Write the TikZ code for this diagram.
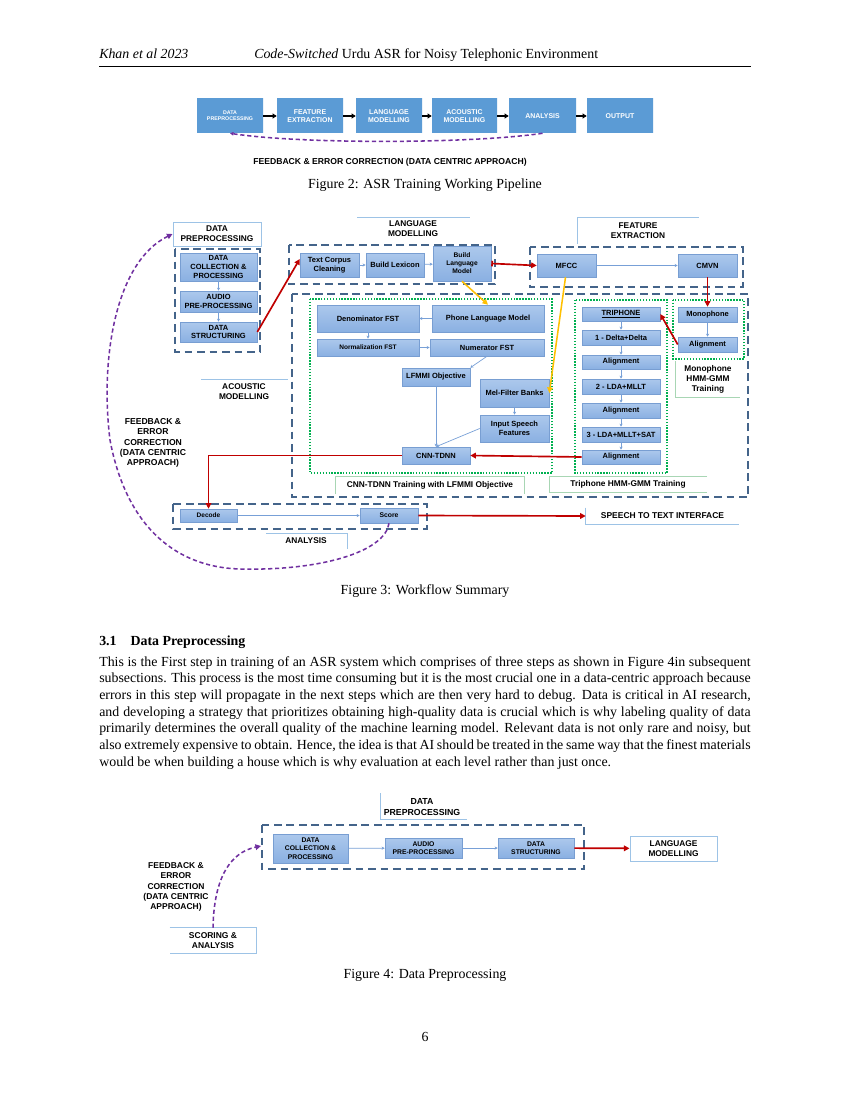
\documentclass[tikz,border=0pt]{standalone}
\usepackage{fontspec}
\setmainfont{Liberation Serif}
\setsansfont{Liberation Sans}
\usetikzlibrary{arrows.meta,calc}
\definecolor{fbl}{RGB}{91,155,213}
\definecolor{btop}{RGB}{172,200,236}
\definecolor{bbot}{RGB}{138,176,226}
\definecolor{bline}{RGB}{120,158,210}
\definecolor{dashc}{RGB}{68,100,138}
\definecolor{grn}{RGB}{0,176,80}
\definecolor{lbl}{RGB}{157,195,230}
\definecolor{lgr}{RGB}{168,214,180}
\definecolor{redc}{RGB}{192,0,0}
\definecolor{purc}{RGB}{112,48,160}
\definecolor{yelc}{RGB}{255,192,0}
\definecolor{arrc}{RGB}{120,160,215}
\newcommand\mysf[2]{\sffamily\bfseries\fontsize{#1}{#2}\selectfont}
\newcommand{\mybox}[7][]{\node[bx,minimum width={(#5-#3)*0.72pt},minimum height={(#6-#4)*0.72pt},#1] (#2) at ({(#3+#5)/2},{(#4+#6)/2}) {#7};}
\tikzset{
 bx/.style={draw=bline, line width=0.4pt, top color=btop, bottom color=bbot, inner sep=0.5pt, align=center, font=\mysf{5.4}{6.4}},
 fb/.style={fill=fbl, draw=none, top color=fbl, bottom color=fbl, text=white, font=\mysf{5}{6}},
 wb/.style={draw=lbl, line width=0.7pt, top color=white, bottom color=white, font=\mysf{6}{7.2}},
 dbox/.style={draw=dashc, line width=1.5pt, dash pattern=on 5.5pt off 3.5pt},
 gbox/.style={draw=grn, line width=1.2pt, dash pattern=on 1pt off 1.1pt},
 lab/.style={font=\mysf{6}{7.2}, align=center, inner sep=0},
 tarr/.style={draw=arrc, line width=0.5pt, -{Stealth[length=2.2pt,width=2.2pt]}},
 rarr/.style={draw=redc, line width=1.2pt, -{Triangle[length=4pt,width=4pt]}},
 barr/.style={draw=black, line width=1.3pt, -{Triangle[length=3pt,width=3.6pt]}},
 parr/.style={draw=purc, line width=1.1pt, dash pattern=on 3pt off 2pt, -{Triangle[length=4pt,width=4pt]}},
 yarr/.style={draw=yelc, line width=1.1pt, -{Triangle[length=4pt,width=4pt]}},
 lline/.style={draw=lbl, line width=0.7pt},
 gline/.style={draw=lgr, line width=0.7pt},
 txt/.style={inner sep=0, font=\fontsize{10}{12}\selectfont},
}
\begin{document}
\begin{tikzpicture}[x=0.72pt,y=-0.72pt]
\fill[white] (0,0) rectangle (850,1100);
\path[use as bounding box] (0,0) rectangle (850,1100);

% header
\node[txt, anchor=base west, font=\fontsize{10}{12}\selectfont\itshape] (hdl) at (99,59) {Khan et al 2023};
\node[txt, anchor=base west] (hdr) at (254,59) {\textit{Code-Switched} Urdu ASR for Noisy Telephonic Environment};
\draw[line width=0.4pt] (99,66) -- (751,66);

% ---------- Figure 2
\mybox[fb,font=\mysf{3.8}{4.6}]{ba}{197}{99}{263}{133}{DATA\\PREPROCESSING}
\mybox[fb]{bb}{277}{99}{343}{133}{FEATURE\\EXTRACTION}
\mybox[fb]{bc}{356}{99}{422}{133}{LANGUAGE\\MODELLING}
\mybox[fb]{bd}{432}{99}{497}{133}{ACOUSTIC\\MODELLING}
\mybox[fb]{be}{509}{99}{576}{133}{ANALYSIS}
\mybox[fb]{bf}{587}{99}{653}{133}{OUTPUT}
\draw[barr] (ba) -- (bb);
\draw[barr] (bb) -- (bc);
\draw[barr] (bc) -- (bd);
\draw[barr] (bd) -- (be);
\draw[barr] (be) -- (bf);
\draw[parr,-{Triangle[length=2.5pt,width=2.5pt]}] (be.south) .. controls (470,144) and (300,144) .. (ba.south);
\node[lab, font=\mysf{6.2}{7.2}] (fb2) at (390,162) {FEEDBACK \& ERROR CORRECTION (DATA CENTRIC APPROACH)};
\node[txt] (cap2) at (425,185) {Figure 2: ASR Training Working Pipeline};

% ---------- Figure 3
% containers
\draw[dbox] (175,249) rectangle (260,352);
\draw[dbox] (289,245) rectangle (495,284);
\draw[dbox] (530,247) rectangle (743,287);
\draw[dbox] (292,294) rectangle (748,497);
\draw[dbox] (173,504) rectangle (427,529);
\draw[gbox] (310,299) rectangle (552,473);
\draw[gbox] (575,300) rectangle (667,473);
\draw[gbox] (673,300) rectangle (744,359);

% labels
\mybox[wb]{dpt}{173}{222}{261}{246}{DATA\\PREPROCESSING}
\draw[lline] (357,217) -- (470,217);
\node[lab] (lmt) at (413,229) {LANGUAGE\\MODELLING};
\draw[lline] (577,244) -- (577,217) -- (699,217);
\node[lab] (fet) at (638,231) {FEATURE\\EXTRACTION};
\draw[lline] (201,379) -- (288,379);
\node[lab] (amt) at (244,392) {ACOUSTIC\\MODELLING};
\node[lab, font=\mysf{6.2}{7.4}] (fb3) at (153,443) {FEEDBACK \&\\ERROR\\CORRECTION\\(DATA CENTRIC\\APPROACH)};
\draw[gline] (675,361) -- (675,397) -- (740,397);
\node[lab] (mot) at (708,379) {Monophone\\HMM-GMM\\Training};
\draw[gline] (335,494) -- (335,476) -- (524,476) -- (524,494);
\node[lab] (cnt) at (430,485) {CNN-TDNN Training with LFMMI Objective};
\draw[gline] (707,476) -- (549,476) -- (549,492) -- (707,492);
\node[lab] (trt) at (628,484) {Triphone HMM-GMM Training};
\draw[lline] (266,533) -- (347,533) -- (347,549);
\node[lab] (ant) at (306,541) {ANALYSIS};
\node[lab, minimum width={153*0.72pt}, minimum height={16*0.72pt}, font=\mysf{6.1}{7.2}] (stt) at (662.5,516) {SPEECH TO TEXT INTERFACE};
\draw[lline] (stt.north west) -- (stt.south west) -- (stt.south east);

% data preprocessing
\mybox{dcp}{180}{253}{257}{281}{DATA\\COLLECTION \&\\PROCESSING}
\mybox{app}{180}{291}{257}{312}{AUDIO\\PRE-PROCESSING}
\mybox{dst}{180}{322}{257}{342}{DATA\\STRUCTURING}
\draw[tarr] (dcp) -- (app);
\draw[tarr] (app) -- (dst);

% language modelling
\mybox{tcc}{300}{253}{359}{277}{Text Corpus\\Cleaning}
\mybox{blx}{366}{253}{424}{277}{Build Lexicon}
\mybox[font=\mysf{4.8}{5.8}]{blm}{433}{246}{491}{281}{Build\\Language\\Model}
\draw[tarr] (tcc) -- (blx);
\draw[tarr] (blx) -- (blm);

% feature extraction
\mybox{mfcc}{537}{254}{596}{277}{MFCC}
\mybox{cmvn}{678}{254}{737}{277}{CMVN}
\draw[tarr] (mfcc) -- (cmvn);

% CNN-TDNN
\mybox{dfst}{317}{305}{419}{332}{Denominator FST}
\mybox{plm}{432}{305}{544}{332}{Phone Language Model}
\mybox[font=\mysf{4.7}{5.6}]{nfst}{317}{339}{419}{356}{Normalization FST}
\mybox{numf}{430}{339}{544}{356}{Numerator FST}
\mybox{lfm}{402}{368}{470}{386}{LFMMI Objective}
\mybox{mel}{480}{379}{549}{407}{Mel-Filter Banks}
\mybox{isf}{480}{415}{549}{442}{Input Speech\\Features}
\mybox{cnn}{402}{447}{470}{464}{CNN-TDNN}
\draw[tarr] (plm) -- (dfst);
\draw[tarr] (dfst) -- (nfst);
\draw[tarr] (nfst) -- (numf);
\draw[tarr] (numf.south) -- (lfm.north east);
\draw[tarr] (lfm) -- (cnn);
\draw[tarr] (mel) -- (isf);
\draw[tarr] (isf.west) -- (cnn.north);

% triphone
\mybox{tri}{582}{307}{660}{321}{\underline{TRIPHONE}}
\mybox{ta}{582}{330}{660}{345}{1 - Delta+Delta}
\mybox{tb}{582}{355}{660}{369}{Alignment}
\mybox{tc}{582}{379}{660}{394}{2 - LDA+MLLT}
\mybox{td}{582}{403}{660}{418}{Alignment}
\mybox{te}{582}{427}{660}{442}{3 - LDA+MLLT+SAT}
\mybox{tf}{582}{450}{660}{464}{Alignment}
\draw[tarr] (tri) -- (ta);
\draw[tarr] (ta) -- (tb);
\draw[tarr] (tb) -- (tc);
\draw[tarr] (tc) -- (td);
\draw[tarr] (td) -- (te);
\draw[tarr] (te) -- (tf);

% monophone
\mybox{mono}{678}{307}{737}{322}{Monophone}
\mybox{mal}{678}{337}{737}{352}{Alignment}
\draw[tarr] (mono) -- (mal);

% analysis
\mybox[font=\mysf{4.7}{5.6}]{dec}{180}{509}{237}{522}{Decode}
\mybox[font=\mysf{4.9}{5.8}]{scr}{360}{508}{418}{523}{Score}
\draw[tarr] (dec) -- (scr);

% red / yellow connectors
\draw[rarr] (dst.east) -- ($(tcc.west)+(0,-6)$);
\draw[rarr,{Bar[width=4pt]}-{Triangle[length=4pt,width=4pt]}] (blm.east) -- (mfcc.west);
\draw[rarr] (cmvn.south) -- (mono.north);
\draw[rarr] (mal.west) -- (tri.east);
\draw[rarr] (tf.west) -- (cnn.east);
\draw[rarr] (cnn.west) -| (dec.north);
\draw[rarr] (scr.east) -- (stt.west);
\draw[yarr] (blm.south) -- (plm.north);
\draw[yarr] ($(mfcc.south)+(-1,0)$) -- (mel.east);
\draw[parr] (scr.south) .. controls (385,552) and (320,571) .. (240,569) .. controls (170,567) and (125,520) .. (110,440) .. controls (100,360) and (115,262) .. (dpt.west);

\node[txt] (cap3) at (425,591) {Figure 3: Workflow Summary};

% ---------- text
\node[txt, anchor=base west, font=\fontsize{10}{12}\selectfont\bfseries] (sec) at (99,645) {3.1\hspace{1em}Data Preprocessing};
\node[txt, anchor=north west, text width=469pt, align=justify] (body) at (99,656) {This is the First step in training of an ASR system which comprises of three steps as shown in Figure 4in subsequent\linebreak
subsections. This process is the most time consuming but it is the most crucial one in a data-centric approach because\linebreak
errors in this step will propagate in the next steps which are then very hard to debug. Data is critical in AI research,\linebreak
and developing a strategy that prioritizes obtaining high-quality data is crucial which is why labeling quality of data\linebreak
primarily determines the overall quality of the machine learning model. Relevant data is not only rare and noisy, but\linebreak
also extremely expensive to obtain. Hence, the idea is that AI should be treated in the same way that the finest materials\linebreak
would be when building a house which is why evaluation at each level rather than just once.};

% ---------- Figure 4
\draw[lline] (380,793) -- (380,819) -- (467,819);
\node[lab, font=\mysf{6.3}{7.4}] (f4t) at (422,807) {DATA\\PREPROCESSING};
\draw[dbox] (262,825) rectangle (584,869);
\mybox[font=\mysf{4.9}{5.9}]{fa}{273}{834}{348}{863}{DATA\\COLLECTION \&\\PROCESSING}
\mybox[font=\mysf{4.9}{5.9}]{fbb}{385}{838}{462}{858}{AUDIO\\PRE-PROCESSING}
\mybox[font=\mysf{4.9}{5.9}]{fc}{498}{838}{574}{858}{DATA\\STRUCTURING}
\mybox[wb]{flm}{630}{836}{717}{861}{LANGUAGE\\MODELLING}
\draw[tarr] (fa) -- (fbb);
\draw[tarr] (fbb) -- (fc);
\draw[rarr] (fc) -- (flm);
\node[lab, font=\mysf{6.1}{7.3}] (fb4) at (176,887) {FEEDBACK \&\\ERROR\\CORRECTION\\(DATA CENTRIC\\APPROACH)};
\node[lab, minimum width={86*0.72pt}, minimum height={25*0.72pt}, font=\mysf{6.1}{7.3}] (sca) at (213,940.5) {SCORING \&\\ANALYSIS};
\draw[lline] (sca.north west) -- (sca.north east) -- (sca.south east) -- (sca.south west);
\draw[parr] (sca.north) .. controls (214,875) and (232,852) .. (261,846);
\node[txt] (cap4) at (425,975) {Figure 4: Data Preprocessing};
\node[txt] (pg) at (425,1037) {6};
\end{tikzpicture}
\end{document}
